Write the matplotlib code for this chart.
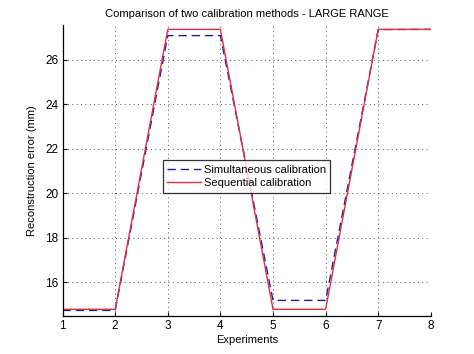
import matplotlib
matplotlib.use("Agg")
import matplotlib.pyplot as plt

experiments = [1, 2, 3, 4, 5, 6, 7, 8]
simultaneous = [14.74, 14.74, 27.08, 27.08, 15.19, 15.19, 27.35, 27.36]
sequential = [14.79, 14.79, 27.36, 27.36, 14.79, 14.79, 27.36, 27.36]
yticks = [16, 18, 20, 22, 24, 26]

plt.rcParams['font.family'] = ['Liberation Sans', 'DejaVu Sans']

fig = plt.figure(figsize=(4.74, 3.54), dpi=100)
ax = fig.add_axes([0.132, 0.108, 0.777, 0.821])

ax.plot(experiments, simultaneous, linestyle=(0, (6, 3.5)), color='#1c1ca8', lw=1.0,
        label='Simultaneous calibration')
ax.plot(experiments, sequential, '-', color='#e0303c', lw=1.0,
        label='Sequential calibration')

ax.set_xlim(1, 8)
ax.set_ylim(14.5, 27.55)
ax.set_xticks(experiments)
ax.set_yticks(yticks)
ax.grid(True, linestyle=(0, (1, 3.5)), color='#555555', lw=0.7)
for s in ['top', 'right']:
    ax.spines[s].set_visible(False)
for s in ['left', 'bottom']:
    ax.spines[s].set_linewidth(0.9)
ax.tick_params(direction='in', length=3, labelsize=8.5, pad=3)

ax.set_title('Comparison of two calibration methods - LARGE RANGE', fontsize=8, pad=6)
ax.set_xlabel('Experiments', fontsize=8, labelpad=2)
ax.set_ylabel('Reconstruction error (mm)', fontsize=8, labelpad=6)

leg = ax.legend(loc='lower left', bbox_to_anchor=(0.272, 0.424), fontsize=8,
                frameon=True, fancybox=False, edgecolor='black', handlelength=3.0,
                borderpad=0.4, labelspacing=0.3, handletextpad=0.3, borderaxespad=0)
leg.get_frame().set_linewidth(0.9)

fig.savefig('out.png', dpi=100)
